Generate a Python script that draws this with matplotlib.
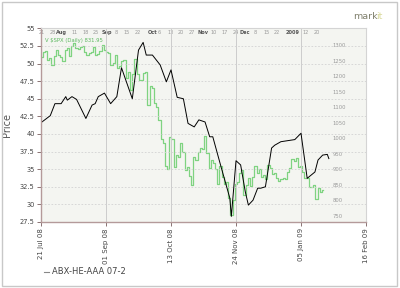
import matplotlib
matplotlib.use("Agg")
import matplotlib.pyplot as plt
from matplotlib.patches import Rectangle
from matplotlib.lines import Line2D
import numpy as np
import pandas as pd

# ABX-HE-AAA 07-2 price (left axis)
abx_dates = ["2008-07-21", "2008-07-24", "2008-07-27", "2008-07-30", "2008-08-03",
             "2008-08-06", "2008-08-07", "2008-08-10", "2008-08-13", "2008-08-19",
             "2008-08-23", "2008-08-25", "2008-08-27", "2008-08-31", "2008-09-04",
             "2008-09-08", "2008-09-11", "2008-09-18", "2008-09-22", "2008-09-25",
             "2008-09-27", "2008-10-01", "2008-10-06", "2008-10-10", "2008-10-13",
             "2008-10-17", "2008-10-21", "2008-10-24", "2008-10-28", "2008-10-31",
             "2008-11-04", "2008-11-07", "2008-11-09", "2008-11-14", "2008-11-20",
             "2008-11-21", "2008-11-24", "2008-11-27", "2008-11-30", "2008-12-02",
             "2008-12-05", "2008-12-08", "2008-12-10", "2008-12-13", "2008-12-17",
             "2008-12-19", "2008-12-23", "2009-01-01", "2009-01-05", "2009-01-09",
             "2009-01-14", "2009-01-16", "2009-01-19", "2009-01-22", "2009-01-23"]
abx_price = [41.6, 42.1, 42.6, 44.3, 44.3, 45.3, 44.8, 45.3, 44.9, 42.2,
             44.1, 44.3, 45.3, 45.8, 44.3, 45.3, 49.4, 45.0, 51.9, 53.0,
             51.2, 51.2, 49.8, 47.4, 49.1, 45.2, 45.0, 41.5, 41.0, 42.0,
             41.7, 39.6, 39.6, 35.6, 30.9, 28.3, 36.2, 35.6, 31.8, 29.9,
             30.6, 32.3, 32.3, 32.5, 38.0, 38.4, 38.9, 39.2, 40.1, 33.7,
             34.6, 36.3, 37.0, 37.1, 36.5]

# $SPX daily closes, 21 Jul 2008 - 23 Jan 2009 (overlay, trading-day scale)
spx_close = [1260.00, 1277.00, 1282.19, 1252.54, 1257.76, 1234.37, 1263.20, 1284.26, 1267.38,
             1260.31, 1249.01, 1284.88, 1289.19, 1266.07, 1296.32, 1305.32, 1289.59, 1285.83,
             1292.93, 1298.20, 1278.60, 1266.69, 1274.54, 1277.72, 1292.20, 1266.84, 1271.51,
             1281.66, 1300.68, 1282.83,
             1277.58, 1274.98, 1236.83, 1242.31, 1267.79, 1224.51, 1232.04, 1249.05, 1251.70,
             1192.70, 1213.60, 1156.39, 1206.51, 1255.08, 1207.09, 1188.22, 1185.87, 1209.18,
             1213.27, 1106.39, 1166.36,
             1161.06, 1114.28, 1099.23, 1056.89, 996.23, 984.94, 909.92, 899.22, 1003.35,
             998.01, 907.84, 946.43, 940.55, 985.40, 955.05, 896.78, 908.11, 876.77, 848.92,
             940.51, 930.09, 954.09, 968.75,
             966.30, 1005.75, 952.77, 904.88, 930.99, 919.21, 898.95, 852.30, 911.29, 873.29,
             850.75, 859.12, 806.58, 752.44, 800.03, 851.81, 857.39, 887.68, 896.24,
             816.21, 848.81, 870.74, 845.22, 876.07, 909.70, 888.67, 899.24, 873.59, 879.73,
             868.57, 913.18, 904.42, 885.28, 887.88, 871.63, 863.16, 868.15, 872.80, 869.42,
             890.64, 903.25,
             931.80, 927.45, 934.70, 906.65, 909.73, 890.35, 870.26, 871.79, 842.62, 843.74,
             850.12, 805.22, 840.24, 827.50, 831.95]
spx_ticks = [750, 800, 850, 900, 950, 1000, 1050, 1100, 1150, 1200, 1250, 1300]

# top date strip of the SPX overlay (label, trading-day index)
top_labels = ["21", "28", "Aug", "11", "18", "25", "Sep", "8", "15", "22", "Oct", "6", "13",
              "20", "27", "Nov", "10", "17", "24", "Dec", "8", "15", "22", "2009", "12", "20"]
top_idx = [0, 5, 9, 15, 20, 25, 30, 34, 39, 44, 51, 54, 59, 64, 69, 74, 79, 84, 89, 93,
           98, 103, 108, 115, 121, 126]
top_bold = {"Aug", "Sep", "Oct", "Nov", "Dec", "2009"}

xtick_dates = ["2008-07-21", "2008-09-01", "2008-10-13", "2008-11-24", "2009-01-05", "2009-02-16"]
xtick_labels = ["21 Jul 08", "01 Sep 08", "13 Oct 08", "24 Nov 08", "05 Jan 09", "16 Feb 09"]
yticks = [27.5, 30, 32.5, 35, 37.5, 40, 42.5, 45, 47.5, 50, 52.5, 55]

fig = plt.figure(figsize=(4, 2.88), dpi=100)
pos = [41 / 400, 1 - 222 / 288, 325 / 400, 193.7 / 288]

# overlay axes (drawn first, underneath)
axb = fig.add_axes(pos)
axb.set_facecolor("#f4f5f1")
for s in axb.spines.values():
    s.set_visible(False)
axb.step(np.arange(len(spx_close)), spx_close, where="mid", color="#7fd381", lw=0.9)
axb.set_xlim(-0.3, 148.7)
axb.set_ylim(729.7, 1353.8)
axb.set_xticks([])
axb.yaxis.tick_right()
axb.set_yticks(spx_ticks)
axb.set_yticklabels([str(t) for t in spx_ticks])
axb.tick_params(axis="y", length=0, pad=-24, labelsize=3.8, labelcolor="#9a9a9a")
for lab, i in zip(top_labels, top_idx):
    bold = lab in top_bold
    axb.text(i, 0.976, lab, transform=axb.get_xaxis_transform(), ha="center", va="center",
             fontsize=3.6, color="#555555" if bold else "#999999",
             fontweight="bold" if bold else "normal")
axb.text(0.012, 0.935, "V \\$SPX (Daily) 831.95", transform=axb.transAxes,
         fontsize=3.8, color="#5cb860", va="center")

# main axes
ax = fig.add_axes(pos)
ax.patch.set_visible(False)
ax.plot(pd.to_datetime(abx_dates), abx_price, color="black", lw=0.7)
ax.set_xlim(pd.Timestamp("2008-07-21"), pd.Timestamp("2009-02-16"))
ax.set_ylim(27.5, 55)
ax.set_yticks(yticks)
ax.set_yticklabels(["%g" % v for v in yticks])
ax.set_xticks(pd.to_datetime(xtick_dates))
ax.set_xticklabels(xtick_labels, rotation=90)
ax.grid(axis="y", ls=(0, (2, 2)), color="#d2d2d2", lw=0.6)
ax.grid(axis="x", ls="-", color="#cccccc", lw=0.7)
ax.set_axisbelow(True)
for side in ["left", "bottom"]:
    ax.spines[side].set_color("#b49a9a")
    ax.spines[side].set_linewidth(1.0)
for side in ["top", "right"]:
    ax.spines[side].set_color("#d4d4d4")
    ax.spines[side].set_linewidth(0.8)
ax.tick_params(axis="both", color="#8a7272", length=3, width=0.7, labelcolor="#444444")
ax.tick_params(axis="y", labelsize=4.8, pad=1.5)
ax.tick_params(axis="x", labelsize=5, pad=1.5)
ax.set_ylabel("Price", fontsize=7, color="#555555", labelpad=6)

fig.legend(handles=[Line2D([], [], color="#888888", lw=0.8)], labels=["ABX-HE-AAA 07-2"],
           loc="center left", bbox_to_anchor=(36 / 400, 1 - 272 / 288), frameon=False,
           fontsize=6, handlelength=0.6, handletextpad=0.4, labelcolor="#444444")

# logo + outer border
fig.text(353 / 400, 1 - 19 / 288, "mark", fontsize=6.8, color="#7f7f6c", va="baseline")
fig.text(376.5 / 400, 1 - 19 / 288, "it", fontsize=6.8, color="#d9d99a", va="baseline")
fig.patches.append(Rectangle((2 / 400, 2 / 288), 395 / 400, 284 / 288, transform=fig.transFigure,
                             fill=False, edgecolor="#c8c8c8", lw=1))

fig.savefig("out.png", dpi=100)
